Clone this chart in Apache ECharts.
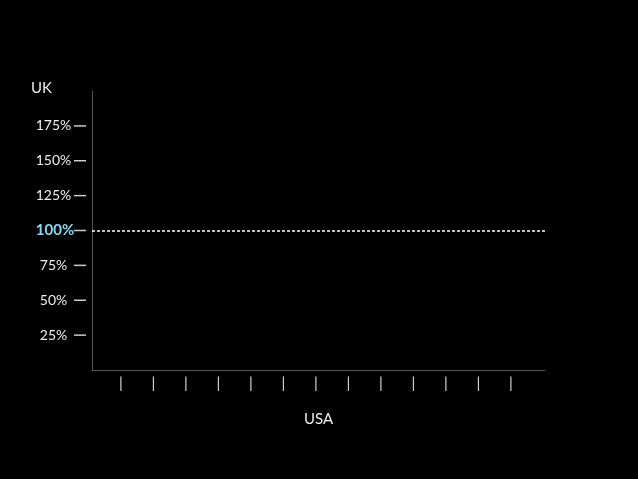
<!DOCTYPE html>
<html>
<head>
<meta charset="utf-8">
<script src="https://cdn.jsdelivr.net/npm/echarts@6/dist/echarts.min.js"></script>
<style>
html,body{margin:0;padding:0;background:#000;}
#chart{width:638px;height:479px;}
</style>
</head>
<body>
<div id="chart"></div>
<script>
// Data
var yTickValues = [25, 50, 75, 100, 125, 150, 175];
var xTickPositions = [1, 2, 3, 4, 5, 6, 7, 8, 9, 10, 11, 12, 13];
var parityLevel = 100;
var xAxisTitle = 'USA';
var yAxisTitle = 'UK';

var FONT = 'Lato';
var chart = echarts.init(document.getElementById('chart'));
chart.setOption({
  backgroundColor: '#000',
  animation: false,
  grid: {left: 92, right: 93, top: 91, bottom: 109, containLabel: false},
  xAxis: {
    type: 'value',
    min: 0.11,
    max: 14.05,
    name: xAxisTitle,
    nameLocation: 'middle',
    nameGap: 42,
    nameTextStyle: {color: '#eee', fontSize: 15, fontFamily: FONT},
    axisLine: {show: true, lineStyle: {color: '#555', width: 1}},
    axisTick: {show: false},
    splitLine: {show: false},
    axisLabel: {
      customValues: xTickPositions,
      formatter: function () { return '|'; },
      color: '#ddd',
      fontSize: 15,
      fontFamily: FONT,
      margin: 6
    }
  },
  yAxis: {
    type: 'value',
    min: 0,
    max: 200,
    name: yAxisTitle,
    nameLocation: 'end',
    nameGap: 3,
    nameTextStyle: {color: '#eee', fontSize: 15, fontFamily: FONT, align: 'right', verticalAlign: 'middle', padding: [0, 40, 0, 0]},
    axisLine: {show: true, lineStyle: {color: '#555', width: 1}},
    axisTick: {show: false},
    splitLine: {show: false},
    axisLabel: {
      customValues: yTickValues,
      margin: 6,
      formatter: function (v) {
        if (v === parityLevel) return '{h|' + v + '%}{d|}';
        return '{v|' + v + '%}{g|}{d|}';
      },
      rich: {
        v: {width: 35, align: 'center', color: '#eee', fontSize: 14, fontFamily: FONT},
        h: {width: 38, align: 'center', color: '#8dd6ef', fontSize: 15, fontWeight: 'bold', fontFamily: FONT},
        g: {width: 3},
        d: {width: 12, height: 1.5, backgroundColor: '#ccc', verticalAlign: 'middle'}
      }
    }
  },
  series: [{
    type: 'line',
    data: [],
    silent: true,
    markLine: {
      silent: true,
      symbol: ['none', 'none'],
      label: {show: false},
      lineStyle: {color: '#fff', type: [3, 2], width: 1.5},
      data: [{yAxis: parityLevel}]
    }
  }]
});
</script>
</body>
</html>
